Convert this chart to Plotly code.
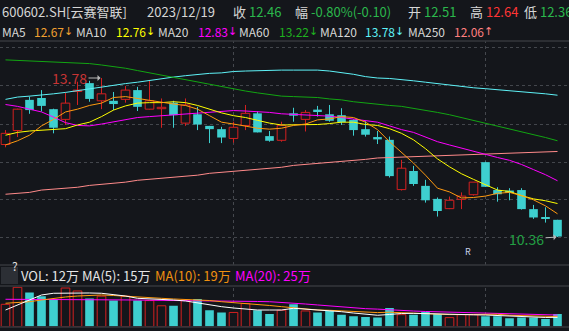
import plotly.graph_objects as go

W, H = 569, 331
BG = '#14161b'
FONT = 'Noto Sans CJK SC, Noto Sans, sans-serif'
RED = '#d42020'
TEAL = '#3ecfcf'
LABEL = '#d6d6d6'

# ---------------- data ----------------
open_ = [12.35, 12.65, 13.31, 13.35, 13.11, 12.89, 13.49, 13.67, 13.29, 13.29, 13.32, 13.52, 13.11, 13.12, 13.25, 12.81,
         13.00, 12.75, 12.68, 12.48, 12.76, 13.02, 12.53, 12.44, 13.02, 12.89, 13.10, 13.00, 12.98, 12.88, 12.68, 12.51,
         12.45, 11.38, 11.78, 11.46, 11.18, 10.97, 11.17, 11.27, 11.97, 11.37, 11.36, 11.37, 10.96, 10.78, 10.73]
high = [12.66, 13.12, 13.38, 13.52, 13.12, 13.47, 13.70, 13.72, 13.78, 13.48, 13.61, 13.59, 13.74, 13.34, 13.29, 13.34,
        13.16, 12.75, 12.73, 12.84, 13.20, 13.06, 12.64, 12.84, 13.14, 13.09, 13.18, 13.20, 13.13, 12.89, 12.85, 12.64,
        12.52, 12.02, 11.89, 11.59, 11.21, 11.23, 11.32, 11.54, 11.98, 11.43, 11.41, 11.41, 11.05, 11.00, 10.73]
low = [12.29, 12.51, 13.01, 13.06, 12.59, 12.77, 13.20, 13.27, 13.11, 13.09, 13.25, 13.07, 13.10, 12.71, 12.71, 12.75,
       12.66, 12.38, 12.38, 12.39, 12.66, 12.61, 12.41, 12.41, 12.84, 12.63, 12.95, 12.84, 12.77, 12.54, 12.52, 12.36,
       11.64, 11.36, 11.46, 11.10, 10.80, 10.96, 10.96, 11.25, 11.44, 11.12, 11.15, 10.95, 10.75, 10.67, 10.36]
close = [12.59, 13.11, 13.09, 13.18, 12.71, 13.24, 13.52, 13.33, 13.44, 13.22, 13.52, 13.16, 13.29, 13.15, 12.98, 13.20,
         12.78, 12.68, 12.50, 12.72, 13.02, 12.61, 12.43, 12.76, 12.97, 13.04, 13.06, 12.86, 12.83, 12.66, 12.56, 12.46,
         11.67, 11.84, 11.50, 11.15, 10.92, 11.15, 11.24, 11.54, 11.44, 11.28, 11.32, 10.96, 10.78, 10.75, 10.37]

ma5 = [12.34, 12.43, 12.55, 12.75, 12.89, 13.05, 13.11, 13.19, 13.24, 13.36, 13.38, 13.34, 13.29, 13.25, 13.22, 13.19,
       13.11, 12.97, 12.83, 12.79, 12.75, 12.70, 12.68, 12.70, 12.76, 12.79, 12.88, 12.90, 12.95, 12.93, 12.83, 12.67,
       12.41, 12.19, 11.95, 11.69, 11.41, 11.33, 11.20, 11.21, 11.24, 11.30, 11.32, 11.25, 11.16, 11.03, 10.86]
ma10 = [12.55, 12.61, 12.64, 12.66, 12.68, 12.69, 12.77, 12.83, 12.95, 13.09, 13.18, 13.24, 13.25, 13.25, 13.27, 13.25,
        13.19, 13.11, 13.03, 12.97, 12.93, 12.87, 12.81, 12.77, 12.77, 12.77, 12.78, 12.80, 12.83, 12.83, 12.78, 12.76,
        12.69, 12.59, 12.45, 12.26, 12.04, 11.87, 11.72, 11.60, 11.49, 11.37, 11.34, 11.25, 11.18, 11.14, 11.08]
ma20 = [13.21, 13.17, 13.11, 13.05, 12.94, 12.82, 12.76, 12.75, 12.79, 12.84, 12.89, 12.93, 12.95, 12.97, 12.98, 13.00,
        13.02, 13.04, 13.06, 13.08, 13.07, 13.06, 13.04, 13.01, 13.00, 12.99, 12.98, 12.96, 12.93, 12.90, 12.86, 12.83,
        12.75, 12.67, 12.61, 12.51, 12.41, 12.34, 12.27, 12.21, 12.13, 12.07, 12.01, 11.92, 11.81, 11.70, 11.57]
ma60 = [14.17, 14.16, 14.15, 14.14, 14.13, 14.12, 14.11, 14.09, 14.06, 14.03, 13.99, 13.94, 13.89, 13.84, 13.79, 13.75,
        13.70, 13.65, 13.60, 13.55, 13.50, 13.46, 13.42, 13.39, 13.38, 13.37, 13.36, 13.33, 13.31, 13.27, 13.24, 13.22,
        13.19, 13.17, 13.13, 13.09, 13.04, 12.99, 12.93, 12.87, 12.81, 12.75, 12.68, 12.63, 12.56, 12.50, 12.43]
ma120 = [13.32, 13.37, 13.39, 13.41, 13.44, 13.47, 13.51, 13.55, 13.59, 13.62, 13.66, 13.69, 13.73, 13.77, 13.80, 13.83,
         13.86, 13.88, 13.89, 13.92, 13.93, 13.94, 13.95, 13.95, 13.95, 13.95, 13.95, 13.93, 13.90, 13.86, 13.81, 13.78,
         13.77, 13.75, 13.72, 13.69, 13.66, 13.63, 13.59, 13.57, 13.55, 13.53, 13.51, 13.49, 13.46, 13.44, 13.41]
ma250 = [11.28, 11.30, 11.32, 11.37, 11.39, 11.41, 11.43, 11.47, 11.49, 11.52, 11.54, 11.58, 11.60, 11.62, 11.64, 11.67,
         11.69, 11.73, 11.75, 11.77, 11.80, 11.82, 11.84, 11.86, 11.90, 11.92, 11.95, 11.97, 11.99, 12.01, 12.03, 12.06,
         12.07, 12.08, 12.09, 12.10, 12.11, 12.12, 12.13, 12.14, 12.14, 12.15, 12.16, 12.17, 12.18, 12.19, 12.20]

# volume in 万 (10k shares)
vol = [30, 53, 46, 41, 37, 52, 48, 38, 41, 35, 41, 35, 35, 28, 28, 36, 37, 22, 19, 19, 31, 22, 17, 22, 30, 21, 19, 21,
       16, 14, 13, 12, 25, 16, 16, 20, 17, 12, 16, 16, 14, 14, 11, 12, 12, 10, 17]
vma5 = [22.3, 29.1, 35.8, 42.6, 44.9, 45.3, 45.9, 45.3, 44.9, 43.2, 41.2, 38.1, 37.6, 36.5, 35.8, 34.5, 31.8, 29.1, 26.8,
        25.0, 23.6, 22.3, 22.3, 22.3, 24.6, 23.6, 22.3, 20.9, 20.0, 18.2, 16.9, 15.2, 16.2, 17.6, 17.8, 17.6, 17.3, 16.9,
        16.2, 15.8, 15.5, 14.9, 13.9, 12.8, 12.4, 12.2, 12.4]
vma10 = [31.4, 32.4, 33.5, 35.8, 38.1, 39.9, 41.2, 41.9, 42.6, 41.9, 41.2, 39.9, 39.2, 38.1, 37.2, 36.8, 36.1, 35.1, 33.5,
         32.4, 31.1, 30.0, 28.4, 26.8, 25.0, 23.6, 22.3, 21.9, 21.0, 20.3, 19.5, 18.8, 19.3, 18.7, 17.3, 17.2, 17.0, 16.1,
         16.1, 16.3, 16.4, 16.6, 15.2, 14.8, 14.4, 13.4, 13.4]
vma20 = [36.8, 36.8, 36.8, 36.8, 36.8, 36.5, 36.5, 36.2, 35.8, 35.8, 35.8, 35.8, 35.5, 35.4, 35.1, 34.9, 34.9, 34.7, 34.5,
         34.2, 34.1, 33.8, 33.5, 32.7, 31.5, 30.4, 29.1, 27.7, 26.6, 25.4, 24.1, 23.5, 22.3, 21.6, 20.9, 20.3, 19.9, 19.3,
         18.9, 18.2, 17.8, 17.4, 16.9, 16.5, 16.1, 15.8, 15.5]

price_grid = [14.43, 13.61, 12.79, 11.97, 11.16, 10.34]
month_marks = [19, 40]

# ---------------- figure ----------------
n = len(close)
idx = list(range(n))
fig = go.Figure()

up = [close[i] >= open_[i] for i in idx]
MINB = 0.02

# wicks
wx_up, wy_up, wx_dn, wy_dn = [], [], [], []
for i in idx:
    top, bot = max(open_[i], close[i]), min(open_[i], close[i])
    if up[i]:
        wx_up += [i, i, None, i, i, None]
        wy_up += [high[i], top, None, bot, low[i], None]
    else:
        wx_dn += [i, i, None]
        wy_dn += [high[i], low[i], None]
fig.add_trace(go.Scatter(x=wx_up, y=wy_up, mode='lines', line=dict(color=RED, width=1), hoverinfo='skip'))
fig.add_trace(go.Scatter(x=wx_dn, y=wy_dn, mode='lines', line=dict(color=TEAL, width=1), hoverinfo='skip'))

# bodies
ux = [i for i in idx if up[i]]
dx = [i for i in idx if not up[i]]
fig.add_trace(go.Bar(x=ux, base=[open_[i] for i in ux], y=[max(close[i] - open_[i], MINB) for i in ux],
                     width=0.72, marker=dict(color=BG, line=dict(color=RED, width=1)), hoverinfo='skip'))
fig.add_trace(go.Bar(x=dx, base=[close[i] for i in dx], y=[max(open_[i] - close[i], MINB) for i in dx],
                     width=0.72, marker=dict(color=TEAL, line=dict(width=0)), hoverinfo='skip'))

# moving averages
for arr, col in [(ma250, '#ff8a8a'), (ma120, '#5ef2f7'), (ma60, '#12a512'),
                 (ma20, '#ff00ff'), (ma10, '#ffff00'), (ma5, '#ff9a10')]:
    fig.add_trace(go.Scatter(x=idx, y=arr, mode='lines', line=dict(color=col, width=1), hoverinfo='skip'))

# volume
fig.add_trace(go.Bar(x=ux, y=[vol[i] for i in ux], width=0.72, xaxis='x2', yaxis='y2',
                     marker=dict(color=BG, line=dict(color=RED, width=1)), hoverinfo='skip'))
fig.add_trace(go.Bar(x=dx, y=[vol[i] for i in dx], width=0.72, xaxis='x2', yaxis='y2',
                     marker=dict(color=TEAL, line=dict(width=0)), hoverinfo='skip'))
for arr, col in [(vma20, '#ff00ff'), (vma10, '#ff9a10'), (vma5, '#ffffff')]:
    fig.add_trace(go.Scatter(x=idx, y=arr, mode='lines', xaxis='x2', yaxis='y2',
                             line=dict(color=col, width=1), hoverinfo='skip'))


def py(ypx):
    return 1 - ypx / H


xr = [-5.5 / 12, (W - 5.5) / 12]
fig.update_layout(
    width=W, height=H, margin=dict(l=0, r=0, t=0, b=0),
    paper_bgcolor=BG, plot_bgcolor=BG, showlegend=False, barmode='overlay',
    xaxis=dict(domain=[0, 1], range=xr, visible=False, anchor='y'),
    xaxis2=dict(domain=[0, 1], range=xr, visible=False, anchor='y2', matches='x'),
    yaxis=dict(domain=[py(265), py(41)], range=[9.758, 14.576], tickvals=price_grid,
               showticklabels=False, ticks='', showgrid=True, gridcolor='#43464c', griddash='dot',
               gridwidth=1, zeroline=False, showline=False),
    yaxis2=dict(domain=[py(326.5), py(286.5)], range=[0, 54.05], visible=False),
)

shapes = []
for m in month_marks:
    shapes.append(dict(type='line', xref='x', yref='paper', x0=m, x1=m, y0=py(265), y1=py(41),
                       line=dict(color='#45484e', width=1, dash='dot'), layer='below'))
    shapes.append(dict(type='line', xref='x', yref='paper', x0=m, x1=m, y0=py(327), y1=py(286),
                       line=dict(color='#45484e', width=1, dash='dot'), layer='below'))
for ysep in [41, 265, 286, 327]:
    shapes.append(dict(type='line', xref='paper', yref='paper', x0=0, x1=1, y0=py(ysep), y1=py(ysep),
                       line=dict(color='#34373d', width=1.5)))
shapes.append(dict(type='rect', xref='paper', yref='paper', x0=1 / W, x1=18 / W, y0=py(284), y1=py(267),
                   fillcolor='#2c2f35', line=dict(width=0)))
fig.update_layout(shapes=shapes)


def txt(xpx, ypx, text, color=LABEL, size=13, family=FONT):
    fig.add_annotation(x=xpx / W, y=py(ypx), xref='paper', yref='paper', text=text, showarrow=False,
                       xanchor='left', yanchor='middle', borderpad=0,
                       font=dict(family=family, size=size, color=color))


GREEN = '#2bb84c'
HRED = '#ff3535'
# header row 1
txt(1, 11, '600602.SH[云赛智联]')
txt(146, 11, '2023/12/19')
txt(232, 11, f"收 <span style='color:{GREEN}'>12.46</span>")
txt(294, 11, f"幅 <span style='color:{GREEN}'>-0.80%(-0.10)</span>")
txt(407, 11, f"开 <span style='color:{GREEN}'>12.51</span>")
txt(469, 11, f"高 <span style='color:{HRED}'>12.64</span>")
txt(523, 11, f"低 <span style='color:{GREEN}'>12.36</span>")

# header row 2: (label x, label, value x, value, arrow, colour)
ma_head = [(1, 'MA5', 33, '12.67', '↓', '#f0a030'),
           (75, 'MA10', 115, '12.76', '↓', '#ffff00'),
           (157, 'MA20', 197, '12.83', '↓', '#ff00ff'),
           (238, 'MA60', 278, '13.22', '↓', '#1fb01f'),
           (319, 'MA120', 364, '13.78', '↓', '#5ef2f7'),
           (407, 'MA250', 453, '12.06', '↑', '#ff7f7f')]
for lx, lab, vx, val, arr, col in ma_head:
    txt(lx, 31, lab, LABEL, 12)
    txt(vx, 31, val, col, 12)
    txt(vx + 30, 31, arr, col, 11, 'DejaVu Sans')

# volume header
fig.add_annotation(x=9.5 / W, y=py(275.5), xref='paper', yref='paper', text='?', showarrow=False,
                   font=dict(family=FONT, size=12, color='#e0e0e0'))
txt(20, 275.5, 'VOL: 12万', '#e6e6e6')
txt(81, 275.5, 'MA(5): 15万', '#e6e6e6')
txt(154, 275.5, 'MA(10): 19万', '#f09010')
txt(234, 275.5, 'MA(20): 25万', '#ff00ff')

# max / min markers
imax = max(idx, key=lambda i: high[i])
imin = min(idx, key=lambda i: low[i])
fig.add_annotation(x=imax, y=high[imax], xref='x', yref='y', text=f'{high[imax]:.2f}', showarrow=True,
                   ax=-32, ay=0, arrowhead=1, arrowsize=1, arrowwidth=1, arrowcolor='#b8b8b8', standoff=1,
                   font=dict(family=FONT, size=14, color='#c83434'))
fig.add_annotation(x=imin, y=low[imin], xref='x', yref='y', text=f'{low[imin]:.2f}', showarrow=True,
                   ax=-31, ay=2, arrowhead=1, arrowsize=1, arrowwidth=1, arrowcolor='#b8b8b8', standoff=1,
                   font=dict(family=FONT, size=14, color='#22a043'))
fig.add_annotation(x=473 / W, y=py(259.5), xref='paper', yref='paper', text='R', showarrow=False,
                   font=dict(family=FONT, size=9, color='#c8d0e8'))

fig.write_html('out.html')
